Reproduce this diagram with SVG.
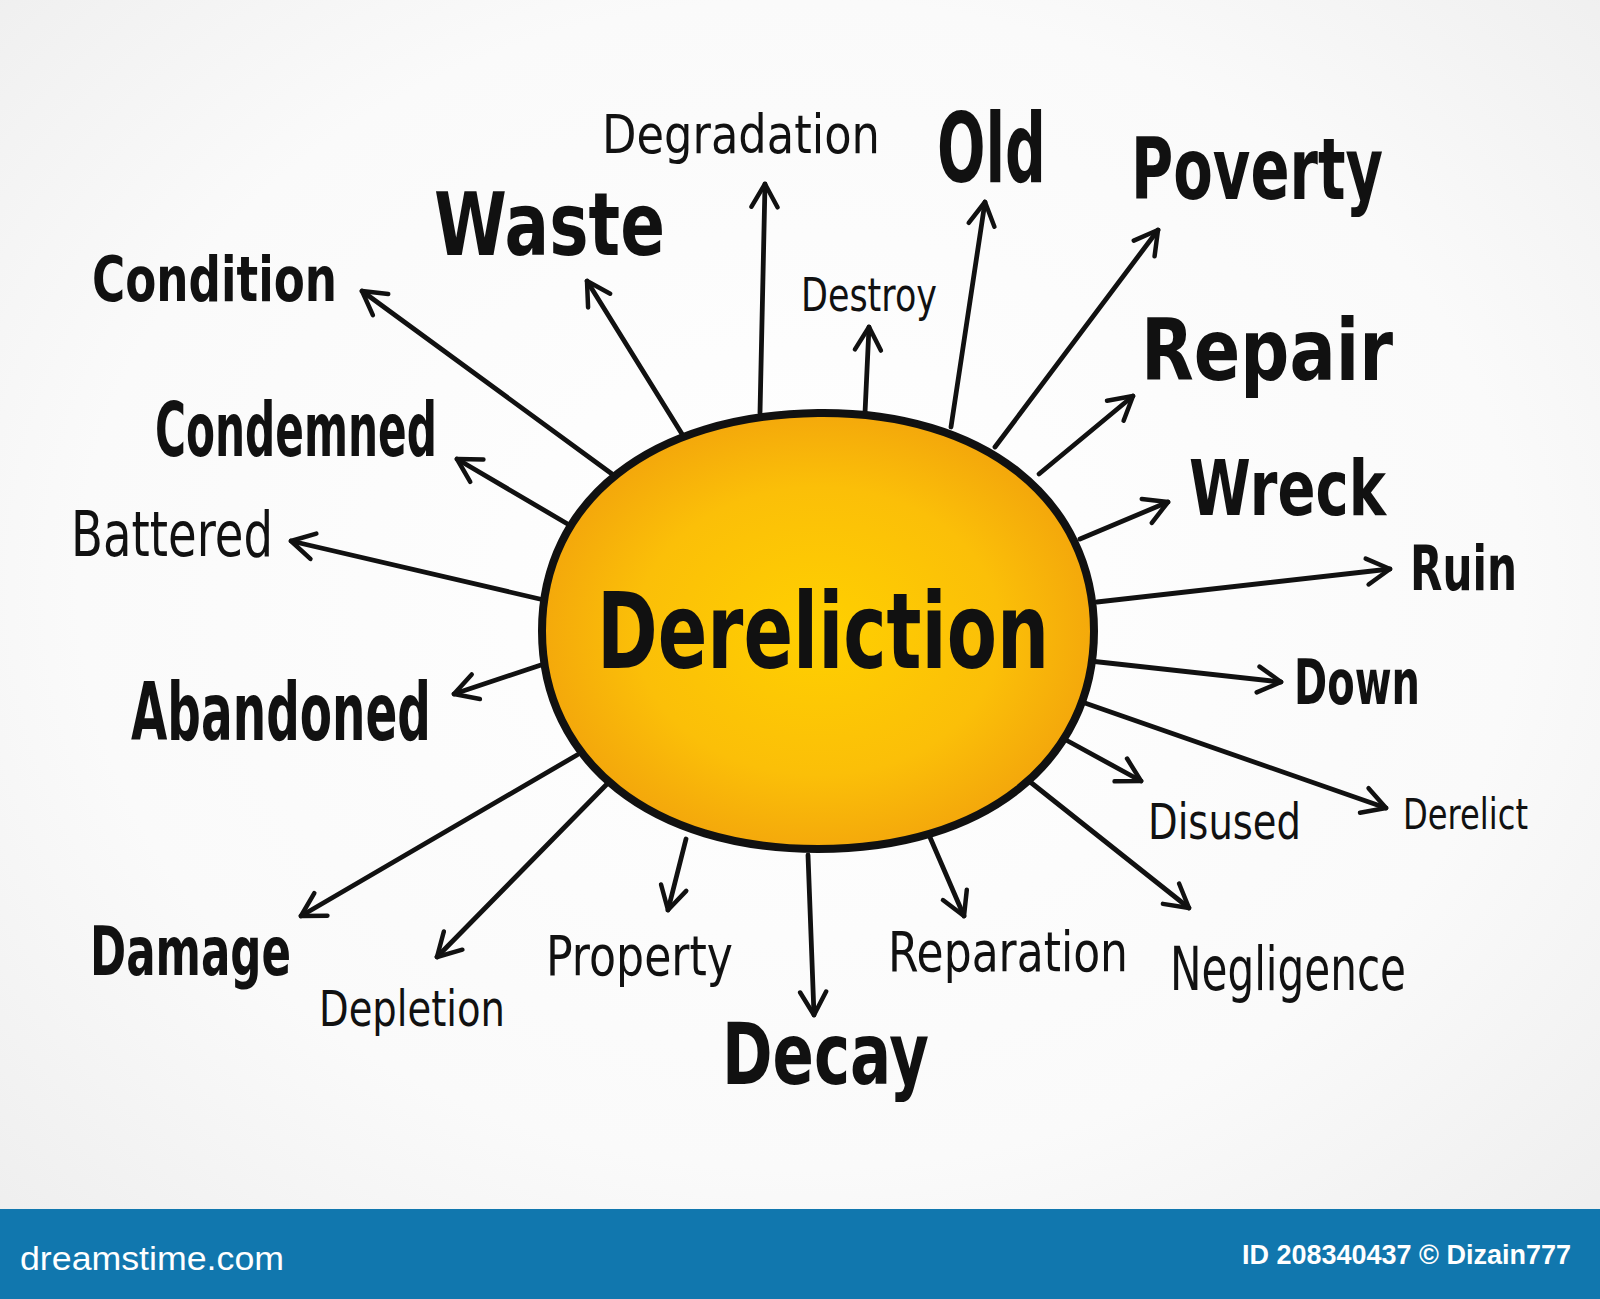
<svg xmlns="http://www.w3.org/2000/svg" width="1600" height="1299" viewBox="0 0 1600 1299">
<defs>
<radialGradient id="bg" cx="50%" cy="45%" r="75%">
<stop offset="0" stop-color="#FFFFFF"/>
<stop offset="0.6" stop-color="#FAFAFA"/>
<stop offset="1" stop-color="#ECECEC"/>
</radialGradient>
<radialGradient id="sun" cx="50%" cy="50%" r="55%">
<stop offset="0" stop-color="#FFD000"/>
<stop offset="0.6" stop-color="#FBBF08"/>
<stop offset="1" stop-color="#F2A20C"/>
</radialGradient>
<marker id="ah" markerUnits="userSpaceOnUse" markerWidth="40" markerHeight="40" refX="24" refY="14" orient="auto" overflow="visible">
<path d="M 1 1 L 24 14 L 1 27" fill="none" stroke="#111" stroke-width="4.5" stroke-linecap="round" stroke-linejoin="round"/>
</marker>
<style>
.t{font-family:"DejaVu Sans","Noto Sans",sans-serif;fill:#111;}
.b{font-weight:bold;}
.n{font-weight:normal;}
.c{fill:none;stroke:#111;stroke-width:4.8;stroke-linecap:round;marker-end:url(#ah);}
.f{font-family:"Liberation Sans","DejaVu Sans",sans-serif;fill:#FFFFFF;}
</style>
</defs>
<rect x="0" y="0" width="1600" height="1299" fill="url(#bg)"/>
<g id="connectors">
<line class="c" x1="612" y1="474" x2="362" y2="291"/>
<line class="c" x1="682" y1="434" x2="587" y2="281"/>
<line class="c" x1="760" y1="413" x2="765" y2="184"/>
<line class="c" x1="865" y1="413" x2="869" y2="327"/>
<line class="c" x1="951" y1="427" x2="985" y2="202"/>
<line class="c" x1="995" y1="447" x2="1158" y2="230"/>
<line class="c" x1="1039" y1="474" x2="1133" y2="396"/>
<line class="c" x1="1080" y1="539" x2="1168" y2="502"/>
<line class="c" x1="1097" y1="602" x2="1390" y2="569"/>
<line class="c" x1="1090" y1="661" x2="1281" y2="682"/>
<line class="c" x1="1082" y1="702" x2="1386" y2="808"/>
<line class="c" x1="1066" y1="740" x2="1141" y2="781"/>
<line class="c" x1="1029" y1="781" x2="1189" y2="908"/>
<line class="c" x1="929" y1="835" x2="964" y2="916"/>
<line class="c" x1="808" y1="855" x2="814" y2="1015"/>
<line class="c" x1="686" y1="839" x2="668" y2="910"/>
<line class="c" x1="607" y1="784" x2="437" y2="957"/>
<line class="c" x1="577" y1="755" x2="301" y2="916"/>
<line class="c" x1="541" y1="665" x2="454" y2="694"/>
<line class="c" x1="544" y1="600" x2="291" y2="541"/>
<line class="c" x1="571" y1="526" x2="457" y2="459"/>
</g>
<g id="center">
<path d="M 818 413 C 984 411, 1094 500, 1094 631 C 1094 762, 984 849, 818 849 C 652 849, 542 762, 542 631 C 542 500, 652 415, 818 413 Z" fill="url(#sun)" stroke="#111" stroke-width="8"/>
<text class="t b" x="597" y="668" font-size="106" textLength="452" lengthAdjust="spacingAndGlyphs">Dereliction</text>
</g>
<g id="n-degradation"><text class="t n" x="602" y="153" font-size="54" textLength="278" lengthAdjust="spacingAndGlyphs">Degradation</text></g>
<g id="n-old"><text class="t b" x="937" y="182" font-size="96" textLength="109" lengthAdjust="spacingAndGlyphs">Old</text></g>
<g id="n-poverty"><text class="t b" x="1131" y="199" font-size="86" textLength="252" lengthAdjust="spacingAndGlyphs">Poverty</text></g>
<g id="n-waste"><text class="t b" x="434" y="255" font-size="88" textLength="231" lengthAdjust="spacingAndGlyphs">Waste</text></g>
<g id="n-condition"><text class="t b" x="92" y="301" font-size="62" textLength="245" lengthAdjust="spacingAndGlyphs">Condition</text></g>
<g id="n-destroy"><text class="t n" x="801" y="311" font-size="46" textLength="136" lengthAdjust="spacingAndGlyphs">Destroy</text></g>
<g id="n-repair"><text class="t b" x="1141" y="380" font-size="86" textLength="252" lengthAdjust="spacingAndGlyphs">Repair</text></g>
<g id="n-condemned"><text class="t b" x="155" y="456" font-size="74" textLength="282" lengthAdjust="spacingAndGlyphs">Condemned</text></g>
<g id="n-wreck"><text class="t b" x="1189" y="515" font-size="76" textLength="197" lengthAdjust="spacingAndGlyphs">Wreck</text></g>
<g id="n-battered"><text class="t n" x="71" y="556" font-size="62" textLength="202" lengthAdjust="spacingAndGlyphs">Battered</text></g>
<g id="n-ruin"><text class="t b" x="1410" y="590" font-size="62" textLength="107" lengthAdjust="spacingAndGlyphs">Ruin</text></g>
<g id="n-abandoned"><text class="t b" x="131" y="740" font-size="80" textLength="300" lengthAdjust="spacingAndGlyphs">Abandoned</text></g>
<g id="n-down"><text class="t b" x="1294" y="704" font-size="62" textLength="126" lengthAdjust="spacingAndGlyphs">Down</text></g>
<g id="n-disused"><text class="t n" x="1148" y="839" font-size="50" textLength="153" lengthAdjust="spacingAndGlyphs">Disused</text></g>
<g id="n-derelict"><text class="t n" x="1403" y="829" font-size="43" textLength="125" lengthAdjust="spacingAndGlyphs">Derelict</text></g>
<g id="n-damage"><text class="t b" x="90" y="975" font-size="68" textLength="201" lengthAdjust="spacingAndGlyphs">Damage</text></g>
<g id="n-depletion"><text class="t n" x="319" y="1026" font-size="50" textLength="186" lengthAdjust="spacingAndGlyphs">Depletion</text></g>
<g id="n-property"><text class="t n" x="546" y="975" font-size="56" textLength="187" lengthAdjust="spacingAndGlyphs">Property</text></g>
<g id="n-reparation"><text class="t n" x="888" y="971" font-size="56" textLength="240" lengthAdjust="spacingAndGlyphs">Reparation</text></g>
<g id="n-negligence"><text class="t n" x="1170" y="990" font-size="60" textLength="236" lengthAdjust="spacingAndGlyphs">Negligence</text></g>
<g id="n-decay"><text class="t b" x="722" y="1084" font-size="86" textLength="207" lengthAdjust="spacingAndGlyphs">Decay</text></g>
<g id="footer">
<rect x="0" y="1209" width="1600" height="90" fill="#1177AE"/>
<text class="f" x="20" y="1270" font-size="34" textLength="264" lengthAdjust="spacingAndGlyphs">dreamstime.com</text>
<text class="f" x="1571" y="1264" font-size="27" font-weight="bold" text-anchor="end">ID 208340437 © Dizain777</text>
</g>
</svg>
